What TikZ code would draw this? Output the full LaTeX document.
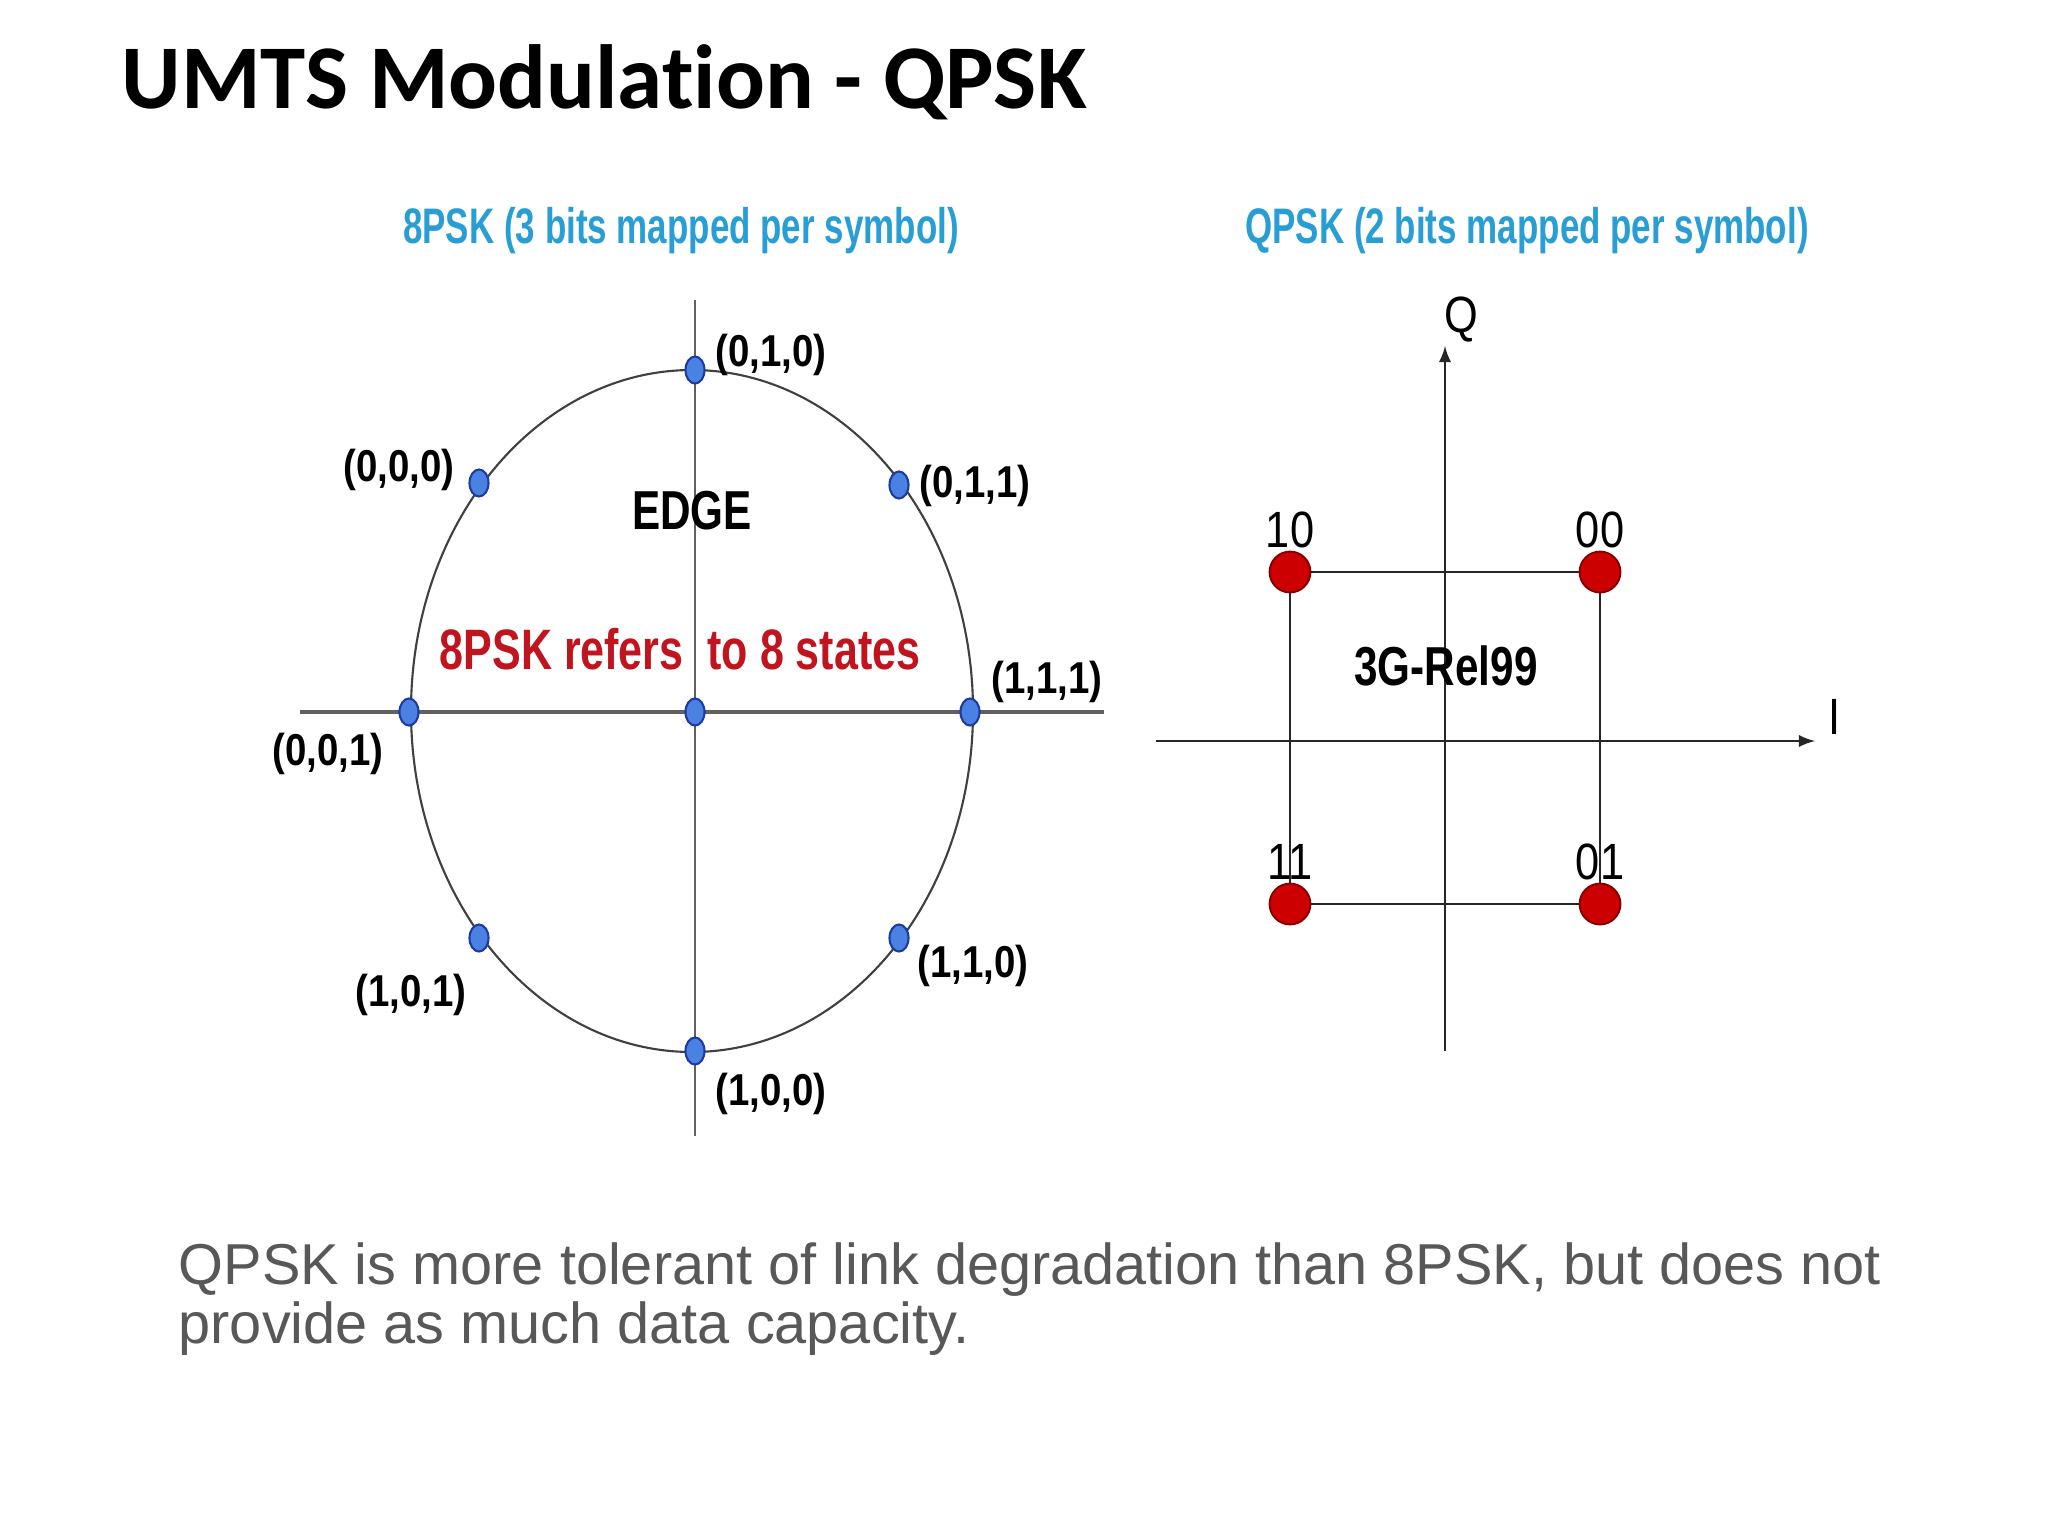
\documentclass[tikz,border=0pt]{standalone}
\usepackage{fontspec}
\usepackage{xcolor}
\usepackage{tikz}
\usetikzlibrary{arrows,shapes,backgrounds,fit}

\setmainfont{Liberation Sans}
\newfontfamily\titlefont[Ligatures=NoCommon]{Carlito}
\newfontfamily\subfont[FakeStretch=0.70]{Liberation Sans}
\newfontfamily\labfont[FakeStretch=0.86]{Liberation Sans}
\newfontfamily\condfont[FakeStretch=0.77]{Liberation Sans}
\newfontfamily\redfont[FakeStretch=0.755]{Liberation Sans}
\newfontfamily\qfont[FakeStretch=0.85]{Liberation Sans}

\definecolor{subblue}{RGB}{40,158,212}
\definecolor{dotblue}{RGB}{74,130,228}
\definecolor{dotedge}{RGB}{30,60,160}
\definecolor{statered}{RGB}{192,20,30}
\definecolor{qred}{RGB}{204,0,0}
\definecolor{qredge}{RGB}{130,0,0}
\definecolor{notegray}{RGB}{88,88,88}

\begin{document}
\begin{tikzpicture}[x=0.01cm,y=-0.01cm]
		\tikzstyle{heading}=[anchor=base west, inner sep=0pt, font=\titlefont\fontsize{25.9}{30}\selectfont\bfseries]
		\tikzstyle{subhead}=[inner sep=0pt, text=subblue, font=\subfont\fontsize{14.2}{17}\selectfont\bfseries]
		\tikzstyle{note}=[anchor=base west, inner sep=0pt, text=notegray, font=\fontsize{16.4}{17}\selectfont]
		\tikzstyle{bdot}=[ellipse, draw=dotedge, fill=dotblue, line width=0.6pt, minimum width=0.19cm, minimum height=0.27cm, inner sep=0pt]
		\tikzstyle{rdot}=[circle, draw=qredge, fill=qred, line width=0.5pt, minimum size=0.41cm, inner sep=0pt]
		\tikzstyle{state}=[inner sep=0pt, font=\labfont\fontsize{12.7}{15}\selectfont\bfseries]
		\tikzstyle{bits}=[inner sep=0pt, font=\qfont\fontsize{14.5}{17}\selectfont]
		\tikzstyle{tag}=[inner sep=0pt, font=\condfont\fontsize{15.6}{18}\selectfont\bfseries]
		\tikzstyle{ring}=[line width=0.6pt, draw=black!75]
		\tikzstyle{axis8}=[draw=black!62]
		\tikzstyle{qline}=[line width=0.6pt, draw=black!85]

		\fill[white] (0,0) rectangle (2048,1536);
		\useasboundingbox (0,0) rectangle (2048,1536);

		\node [heading] (title) at (121,108) {UMTS Modulation - QPSK};

		% 8PSK constellation
		\begin{scope}
			\node [subhead] (head8) at (681,231) {8PSK (3 bits mapped per symbol)};

			\coordinate (vtop) at (695,300);
			\coordinate (vbot) at (695,1136);
			\coordinate (hleft) at (300,712);
			\coordinate (hright) at (1104,712);
			\draw [axis8, line width=0.7pt] (vtop) -- (vbot);
			\draw [axis8, line width=1.1pt] (hleft) -- (hright);
			\draw [ring] (692,711) ellipse [x radius=281, y radius=341];

			\node [bdot] (p010) at (695,370) {};
			\node [bdot] (p000) at (479,483) {};
			\node [bdot] (p011) at (899,485) {};
			\node [bdot] (p001) at (409,712) {};
			\node [bdot] (porigin) at (695,712) {};
			\node [bdot] (p111) at (970,712) {};
			\node [bdot] (p101) at (479,938) {};
			\node [bdot] (p110) at (899,938) {};
			\node [bdot] (p100) at (695,1051) {};

			\node [state] at (771,355) {(0,1,0)};
			\node [state] at (399,470) {(0,0,0)};
			\node [state] at (975,486) {(0,1,1)};
			\node [state] at (1047,682) {(1,1,1)};
			\node [state] at (328,754) {(0,0,1)};
			\node [state] at (411,995) {(1,0,1)};
			\node [state] at (973,966) {(1,1,0)};
			\node [state] at (771,1094) {(1,0,0)};

			\node [tag] (edge) at (692,511) {EDGE};
			\node [tag, text=statered, font=\redfont\fontsize{16.2}{19}\selectfont\bfseries] (states) at (680,649) {8PSK refers\ \ to 8 states};
		\end{scope}

		% QPSK constellation
		\begin{scope}
			\node [subhead] (headq) at (1527,231) {QPSK (2 bits mapped per symbol)};

			\coordinate (qtop) at (1445,346);
			\coordinate (qbot) at (1445,1051);
			\coordinate (ileft) at (1156,741);
			\coordinate (iright) at (1815,741);
			\draw [qline, -latex] (qbot) -- (qtop);
			\draw [qline, -latex] (ileft) -- (iright);

			\node [rdot] (d10) at (1290,572) {};
			\node [rdot] (d00) at (1600,572) {};
			\node [rdot] (d11) at (1290,904) {};
			\node [rdot] (d01) at (1600,904) {};
			\draw [qline] (d10) -- (d00) -- (d01) -- (d11) -- (d10);

			\node [bits, node distance=0.42cm] [above of=d10] {10};
			\node [bits, node distance=0.42cm] [above of=d00] {00};
			\node [bits, node distance=0.42cm] [above of=d11] {11};
			\node [bits, node distance=0.42cm] [above of=d01] {01};
			\node [bits] (qlab) at (1461,320) {Q};
			\node [bits] (ilab) at (1834,717) {I};

			\node [tag] (rel) at (1446,666) {3G-Rel99};
		\end{scope}

		\node [note] (note1) at (178,1284) {QPSK is more tolerant of link degradation than 8PSK, but does not};
		\node [note] (note2) at (178,1343) {provide as much data capacity.};

	\end{tikzpicture}
\end{document}
